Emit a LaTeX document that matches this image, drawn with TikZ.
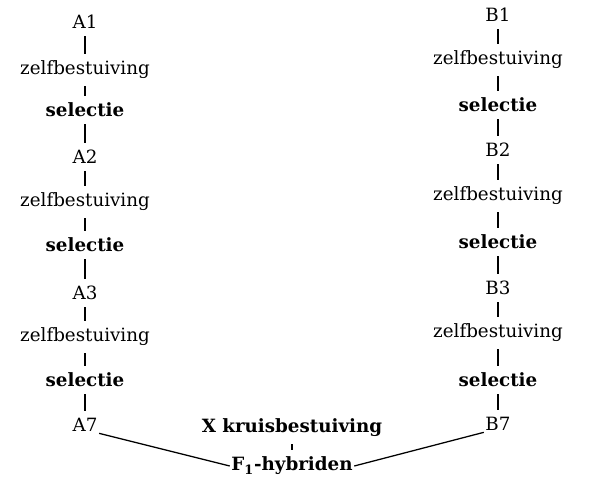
\documentclass[tikz,border=0pt]{standalone}
\usepackage{fontspec}
\setmainfont{DejaVu Serif}
\usepackage{tikz}

\tikzset{lbl/.style={inner sep=1pt,font=\fontsize{13}{15}\selectfont},
  sel/.style={lbl,font=\fontsize{13}{15}\selectfont\bfseries},
  stem/.style={line width=0.9pt,shorten <=4pt,shorten >=4pt}}

\begin{document}
\begin{tikzpicture}[x=0.025cm,y=-0.025cm]
       \useasboundingbox (0,0) rectangle (600,492);
       % linker lijn A
       \node[lbl] (a1) at (85,22) {A1}; \node[lbl] (za1) at (85,70) {zelfbestuiving};
       \node[sel] (sa1) at (85,110) {selectie}; \node[lbl] (a2) at (85,157) {A2};
       \node[lbl] (za2) at (85,202) {zelfbestuiving}; \node[sel] (sa2) at (85,245) {selectie};
       \node[lbl] (a3) at (85,293) {A3}; \node[lbl] (za3) at (85,337) {zelfbestuiving};
       \node[sel] (sa3) at (85,380) {selectie}; \node[lbl] (a7) at (85,425) {A7};
       % rechter lijn B
       \node[lbl] (b1) at (498,15) {B1}; \node[lbl] (zb1) at (498,60) {zelfbestuiving};
       \node[sel] (sb1) at (498,105) {selectie}; \node[lbl] (b2) at (498,150) {B2};
       \node[lbl] (zb2) at (498,196) {zelfbestuiving}; \node[sel] (sb2) at (498,242) {selectie};
       \node[lbl] (b3) at (498,288) {B3}; \node[lbl] (zb3) at (498,333) {zelfbestuiving};
       \node[sel] (sb3) at (498,380) {selectie}; \node[lbl] (b7) at (498,424) {B7};
       % kruising
       \node[sel] (x) at (292,428) {X kruisbestuiving};
       \node[sel] (f1) at (292,466) {F\textsubscript{1}-hybriden};
       \foreach \p/\q in {a1/za1,za1/sa1,sa1/a2,a2/za2,za2/sa2,sa2/a3,a3/za3,za3/sa3,sa3/a7,
         b1/zb1,zb1/sb1,sb1/b2,b2/zb2,zb2/sb2,sb2/b3,b3/zb3,zb3/sb3,sb3/b7,x/f1}
         \draw[stem] (\p) -- (\q);
       \draw[line width=0.9pt] (a7.south east) -- (f1.west); \draw[line width=0.9pt]
       (b7.south west) -- (f1.east);
\end{tikzpicture}
\end{document}
